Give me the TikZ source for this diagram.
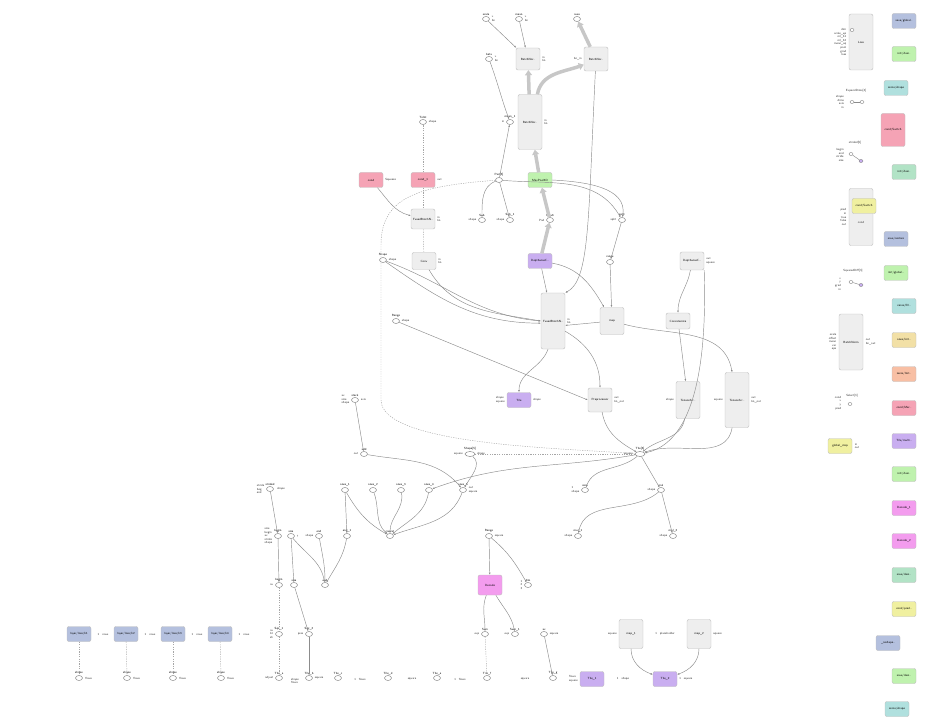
\documentclass[tikz,border=0pt]{standalone}
\usepackage{tikz}
\usetikzlibrary{arrows.meta,positioning,shapes.geometric}
\newcommand{\gfont}{\sffamily\fontsize{3}{3.6}\selectfont}
\definecolor{opgray}{HTML}{EEEEEE}
\definecolor{opline}{HTML}{BDBDBD}
\definecolor{cpink}{HTML}{F5A3B5}
\definecolor{cgreen}{HTML}{BFF2AE}
\definecolor{cpurple}{HTML}{C9AEF0}
\definecolor{cmagenta}{HTML}{F39CEE}
\definecolor{cblue}{HTML}{B4C0DE}
\definecolor{cteal}{HTML}{B0E0DE}
\definecolor{cmint}{HTML}{B2E3C6}
\definecolor{cyellow}{HTML}{F0F0A0}
\definecolor{cochre}{HTML}{F2E0A6}
\definecolor{csalmon}{HTML}{F8BFA4}
\tikzset{
  op/.style={rectangle, rounded corners=2pt, draw=opline, fill=opgray, minimum width=24pt, minimum height=15pt, inner sep=0.5pt, font=\gfont},
  cst/.style={ellipse, draw=black!55, fill=white, minimum width=7pt, minimum height=5pt, inner sep=0pt},
  tinycst/.style={ellipse, draw=black!50, fill=white, minimum width=4pt, minimum height=3pt, inner sep=0pt},
  note/.style={font=\gfont, inner sep=0.4pt, align=left, text=black!80},
  wire/.style={draw=black!45, line width=0.45pt},
  dotwire/.style={draw=black!35, line width=0.45pt, dash pattern=on 1.2pt off 1.2pt},
  flow/.style={draw=black!22, line width=3.5pt, -{Triangle[length=5pt,width=7pt]}},
  every label/.style={font=\gfont, inner sep=0.6pt}
}

\begin{document}
\begin{tikzpicture}[x=1pt, y=-1pt, >={Latex[length=2.2pt,width=1.8pt]}, node distance=47pt]
\useasboundingbox (0,0) rectangle (934,727);

% Blocks - top
\node [cst, label=above:scale] (scl) at (486,19) {};
\node [cst, label=above:mean] (mean) at (519,19) {};
\node [cst, label=above:axes] (axes) at (577,19) {};
\node [cst, label=above:beta] (beta) at (489,59) {};
\node [op, minimum height=22pt] (bnA) at (528,59) {BatchNor..};
\node [op, minimum height=24pt] (bnB) at (596,59) {BatchNor..};
\node [op, minimum height=55pt] (bnC) at (530,122) {BatchNor..};
\node [cst, label=above:mean\_1] (mean1) at (510,122) {};
\node [cst, label=above:ToInt] (toint) at (423,122) {};
\node [note, right=1.5pt of scl] {x\\bn};
\node [note, right=1.5pt of mean] {x\\bn};
\node [note, right=1.5pt of beta] {x\\bn};
\node [note, right=1.5pt of bnA] {in\\bn};
\node [note, left=1.5pt of bnB] {bn\_in};
\node [note, right=1.5pt of bnC] {in\\bn};
\node [note, left=1.5pt of mean1] {in};
\node [note, right=1.5pt of toint] {shape};

% Blocks - second band
\node [op, fill=cpink] (castA) at (371,180) {cond};
\node [op, fill=cpink] (castB) at (423,180) {cond\_1};
\node [cst, label=above:{Pad[3]}] (pad) at (499,180) {};
\node [op, fill=cgreen] (mp) at (540,180) {MaxPool3D};
\node [note, right=1.5pt of castA] {Squeeze};
\node [note, right=1.5pt of castB] {out};
\node [op, minimum height=20pt] (fbn) at (423,219) {FusedBatchN..};
\node [cst, label=above:Sub] (sub) at (482,220) {};
\node [cst, label=above:Sub\_1] (sub1) at (510,220) {};
\node [cst, label=above:Relu6] (relu) at (550,220) {};
\node [cst, label=above:split] (split) at (622,220) {};
\node [note, right=1.5pt of fbn] {in\\bn};
\node [note, left=1.5pt of sub] {shape};
\node [note, left=1.5pt of sub1] {shape};
\node [note, left=1.5pt of relu] {Pad};
\node [note, left=1.5pt of split] {split};
\node [op, minimum height=17pt] (conv) at (424,261) {Conv};
\node [cst, label=above:Shape] (shp) at (383,260) {};
\node [op, fill=cpurple] (dw) at (540,261) {DepthwiseC..};
\node [cst, label=above:range] (rng) at (610,262) {};
\node [op, minimum height=18pt] (dwr) at (692,261) {DepthwiseC..};
\node [note, right=1.5pt of conv] {in\\bn};
\node [note, right=1.5pt of shp] {shape};
\node [note, right=1.5pt of dwr] {out\\square};

% Blocks - middle
\node [op, minimum height=56pt] (fbn2) at (553,321) {FusedBatchN..};
\node [op, minimum height=27pt] (map) at (612,321) {map};
\node [op, minimum height=16pt] (conc) at (678,321) {Concatenate};
\node [cst, label=above:Range] (rg) at (396,321) {};
\node [note, right=1.5pt of fbn2] {in\\bn};
\node [note, right=1.5pt of rg] {shape};
\node [op, fill=cpurple] (tile) at (519,400) {Tile};
\node [op, minimum height=24pt] (prep) at (600,400) {Preprocessor};
\node [op, minimum height=37pt] (tr) at (688,400) {TensorArr..};
\node [op, minimum height=55pt] (tr2) at (737,400) {TensorArr..};
\node [cst, label=above:stack] (stk) at (355,400) {};
\node [note, left=1.5pt of tile] {shape\\square};
\node [note, right=1.5pt of tile] {shape};
\node [note, right=1.5pt of prep] {out\\bn\_out};
\node [note, left=1.5pt of tr] {shape};
\node [note, left=1.5pt of tr2] {square};
\node [note, right=1.5pt of tr2] {out\\bn\_out};
\node [note, left=1.5pt of stk] {ax\\size\\shape};
\node [note, right=1.5pt of stk] {axis};

% Blocks - lower
\node [cst, label=above:add] (add) at (364,454) {};
\node [cst, minimum width=10pt, label=above:{Shape[5]}] (shp5) at (470,454) {};
\node [cst, minimum width=10pt, label=above:{Tile[6]}] (til6) at (640,454) {};
\node [note, left=1.5pt of add] {out};
\node [note, left=1.5pt of shp5] {square};
\node [note, right=1.5pt of shp5] {shape};
\node [note, left=1.5pt of til6] {square};
\node [cst, label=above:ones\_1] (r1) at (345,490) {};
\node [cst, label=above:ones\_2] (r2) at (373,490) {};
\node [cst, label=above:ones\_3] (r3) at (401,490) {};
\node [cst, label=above:ones\_4] (r4) at (429,490) {};
\node [cst, label=above:ones\_5] (r5) at (463,490) {};
\node [cst, label=above:zero] (zro) at (585,490) {};
\node [cst, label=above:mul] (mul) at (661,490) {};
\node [cst, label=above:strided] (ss) at (270,489) {};
\node [note, right=1.5pt of r5] {out\\square};
\node [note, left=1.5pt of zro] {1\\shape};
\node [note, left=1.5pt of mul] {shape};
\node [note, left=1.5pt of ss] {stride\\beg\\end};
\node [note, right=3pt of ss] {shape};
\node [cst, label=above:begin] (sa) at (278,536) {};
\node [cst, label=above:size] (sb) at (291,536) {};
\node [cst, label=above:end] (sc) at (319,536) {};
\node [cst, label=above:end\_1] (sd) at (347,536) {};
\node [cst, label=above:concat] (cat) at (390,536) {};
\node [cst, label=above:Range] (rng2) at (489,536) {};
\node [cst, label=above:mul\_1] (ma) at (578,536) {};
\node [cst, label=above:mul\_2] (mb) at (673,536) {};
\node [note, left=1.5pt of sa] {size\\begin\\ax\\stride\\shape};
\node [note, left=1.5pt of sc] {shape};
\node [note, right=1.5pt of sb] {?};
\node [note, right=1.5pt of rng2] {square};
\node [note, left=1.5pt of ma] {shape};
\node [note, left=1.5pt of mb] {shape};

% Blocks - bottom
\node [op, fill=cmagenta, minimum height=20pt] (dec) at (490,585) {Decode};
\node [cst, label=above:dim] (dim) at (528,585) {};
\node [note, left=1.5pt of dim] {1\\2\\3};
\node [cst, label=above:begin] (ta) at (279,585) {};
\node [cst, label=above:size] (tb) at (294,585) {};
\node [cst, label=above:end] (tc) at (325,585) {};
\node [note, left=1.5pt of ta] {ax};
\node [cst, label=above:Sqz\_1] (qa) at (279,634) {};
\node [cst, label=above:Sqz\_2] (qb) at (309,634) {};
\node [note, left=1.5pt of qa] {ax\\bt\\sh};
\node [note, left=1.5pt of qb] {pres};
\node [cst, label=above:Sum] (da) at (485,634) {};
\node [cst, label=above:Sum\_1] (db) at (515,634) {};
\node [cst, label=above:ax] (dc) at (544,634) {};
\node [note, left=1.5pt of da] {exp};
\node [note, left=1.5pt of db] {exp};
\node [note, right=1.5pt of dc] {square};
\node [op, fill=cblue] (lossA) at (79,634) {layer/loss/h1};
\node [op, fill=cblue, right of=lossA] (lossB) {layer/loss/h2};
\node [op, fill=cblue, right of=lossB] (lossC) {layer/loss/h3};
\node [op, fill=cblue, right of=lossC] (lossD) {layer/loss/h4};
\node [note] at (103,634) {1\quad rows};
\node [note] at (150,634) {1\quad rows};
\node [note] at (197,634) {1\quad rows};
\node [note] at (244,634) {1\quad rows};
\node [op, minimum height=29pt] (gA) at (631,634) {map\_1};
\node [op, minimum height=29pt] (gB) at (699,634) {map\_2};
\node [note, left=1.5pt of gA] {square};
\node [note] at (665,634) {1\quad placeholder};
\node [note, right=1.5pt of gB] {square};
\node [cst, label=above:shape] (ua) at (79,678) {};
\node [cst, label=above:shape] (ub) at (127,678) {};
\node [cst, label=above:shape] (uc) at (173,678) {};
\node [cst, label=above:shape] (ud) at (221,678) {};
\node [note, right=2pt of ua] {flows};
\node [note, right=2pt of ub] {flows};
\node [note, right=2pt of uc] {flows};
\node [note, right=2pt of ud] {flows};
\node [cst, label=above:Tile\_a] (va) at (279,678) {};
\node [cst, label=above:Tile\_b] (vb) at (309,678) {};
\node [cst, label=above:Tile\_c] (vc) at (338,678) {};
\node [cst, label=above:Tile\_d] (vd) at (388,678) {};
\node [cst, label=above:Tile\_e] (ve) at (437,678) {};
\node [cst, label=above:Tile\_f] (vf) at (487,678) {};
\node [cst, label=above:Tile\_g] (vg) at (553,678) {};
\node [note, left=1.5pt of va] {adjust};
\node [note] at (295,681) {shape\\flows};
\node [note, right=1.5pt of vb] {square};
\node [note] at (360,679) {1\quad flows};
\node [note] at (412,679) {square};
\node [note] at (460,679) {1\quad flows};
\node [note] at (525,679) {square};
\node [op, fill=cpurple] (pA) at (592,679) {Tile\_1};
\node [op, fill=cpurple] (pB) at (665,679) {Tile\_2};
\node [note, left=1.5pt of pA] {flows\\square};
\node [note] at (623,679) {1\quad shape};
\node [note, right=1.5pt of pB] {1\quad square};

% Blocks - right column
\node [op, minimum height=56pt] (lossX) at (861,42) {Loss};
\node [tinycst] (lossI) at (852,30) {};
\node [note, left=2pt of lossX, align=right] {dim\\scale\_up\\ml\_h1\\ml\_h2\\mean\_sq\\pool\\grad\\loss};
\node [op, fill=cblue] (kA) at (904,21) {save/global..};
\node [op, fill=cgreen] (kB) at (904,54) {init/Assi..};
\node [op, fill=cteal] (kC) at (896,88) {zeros/shape};
\node [note, align=right] (xA) at (840,102) {shape\\dims\\axis\\in};
\node [note] (xAt) at (856,91) {ExpandDims[3]};
\node [tinycst] (xA1) at (852,102) {};
\node [tinycst] (xA2) at (862,102) {};
\node [op, fill=cpink, minimum height=33pt] (kD) at (893,130) {cond/Switch};
\node [note, align=right] (xB) at (840,155) {begin\\end\\stride\\size};
\node [note] (xBt) at (855,143) {strided[5]};
\node [tinycst] (xB1) at (851,154) {};
\node [tinycst, fill=cpurple] (xB2) at (861,161) {};
\node [op, fill=cmint] (kE) at (904,172) {init/Assi..};
\node [op, minimum height=57pt] (kF) at (861,217) {};
\node [op, fill=cyellow] (kG) at (864,206) {cond/Switch};
\node [note] at (861,222) {cond};
\node [note, left=2pt of kF, align=right] {pred\\in\\true\\false\\out};
\node [op, fill=cblue] (kH) at (896,239) {save/restore};
\node [note, align=right] (xC) at (838,284) {x\\y\\grad\\in};
\node [note] (xCt) at (853,271) {SquaredDiff[3]};
\node [tinycst] (xC1) at (851,282) {};
\node [tinycst, fill=cpurple] (xC2) at (861,285) {};
\node [op, fill=cgreen] (kI) at (896,273) {init/global..};
\node [op, fill=cteal] (kJ) at (904,306) {zeros/fill..};
\node [op, minimum height=56pt] (kK) at (851,342) {BatchNorm};
\node [note, left=2pt of kK, align=right] {scale\\offset\\mean\\var\\eps};
\node [note, right=2pt of kK] {out\\bn\_out};
\node [op, fill=cochre] (kL) at (904,340) {ones/Init..};
\node [op, fill=csalmon] (kM) at (904,374) {zeros/Init..};
\node [op, fill=cpink] (kN) at (904,408) {cond/Mer..};
\node [note, align=right] (xD) at (838,403) {cond\\x\\y\\pred};
\node [note] (xDt) at (852,396) {Select[3]};
\node [tinycst] (xD1) at (850,404) {};
\node [op, fill=cyellow] (kO) at (840,446) {global\_step};
\node [note, right=2pt of kO] {in\\out};
\node [op, fill=cpurple] (kP) at (904,441) {Tile/multi..};
\node [op, fill=cgreen] (kQ) at (904,474) {init/Assi..};
\node [op, fill=cmagenta] (kR) at (904,508) {Decode\_1};
\node [op, fill=cmagenta] (kS) at (904,541) {Decode\_2};
\node [op, fill=cmint] (kT) at (904,575) {save/Assi..};
\node [op, fill=cyellow] (kU) at (904,609) {cond/pred..};
\node [op, fill=cblue] (kV) at (888,643) {\_reshape..};
\node [op, fill=cgreen] (kW) at (904,676) {save/Assi..};
\node [op, fill=cteal] (kX) at (897,709) {zeros/shape};

% Connections - top
\draw [wire,->] (scl) -- (bnA);
\draw [wire,->] (mean) -- (bnA);
\draw [flow] (bnB) -- (axes);
\draw [flow] (bnC) -- (bnA);
\draw [flow] (bnC.75) to[out=80,in=200] (bnB.205);
\draw [wire,->] (beta) to[out=-70,in=110] (mean1);
\draw [wire,->] (pad) -- (mean1);
\draw [dotwire] (castB) -- (toint);
\draw [flow] (mp) -- (bnC);
\draw [flow] (dw) -- (relu);
\draw [flow] (relu) -- (mp);
\draw [wire,->] (castA) to[out=-50,in=165] (fbn);
\draw [dotwire] (castB) -- (fbn);
\draw [dotwire] (fbn) -- (conv);
\draw [wire,->] (pad) to[out=-5,in=120] (split);
\draw [wire,->] (mp.east) to[out=-3,in=80] (split);
\draw [wire,->] (pad) to[out=200,in=90] (sub);
\draw [wire,->] (pad) -- (sub1);
\draw [wire,->] (split) -- (rng);
\draw [wire,->] (bnB) .. controls (588,220) and (590,280) .. (fbn2.north east);
\draw [dotwire] (pad) .. controls (420,186) and (381,196) .. (381,245) -- (381,400) .. controls (381,445) and (560,448) .. (til6);

% Connections - middle
\draw [wire,->] (shp) to[out=-20,in=175] (fbn2.west);
\draw [wire,->] (shp) to[out=-35,in=180] (fbn2.190);
\draw [wire,->] (conv) to[out=-60,in=170] (fbn2.west);
\draw [wire,->] (dw) -- (fbn2);
\draw [wire,->] (dw) to[out=-10,in=120] (map);
\draw [wire,->] (rng) -- (map);
\draw [wire,->] (map) -- (fbn2.-20);
\draw [wire,->] (fbn2.-40) to[out=-30,in=90] (prep);
\draw [wire,->] (fbn2.-100) to[out=-110,in=90] (tile);
\draw [wire,->] (rg) -- (prep.west);
\draw [wire,->] (map) to[out=-15,in=100] (tr2);
\draw [wire,->] (dwr) to[out=-100,in=90] (conc);
\draw [wire,->] (conc) -- (tr);
\draw [wire,->] (dwr.south east) .. controls (706,330) and (704,440) .. (til6);
\draw [wire,->] (prep) to[out=-80,in=150] (til6);
\draw [wire,->] (tr) to[out=-100,in=40] (til6);
\draw [wire,->] (tr2) to[out=-100,in=20] (til6);

% Connections - lower
\draw [wire,->] (stk) -- (add);
\draw [wire,->] (add) to[out=-10,in=130] (r5);
\draw [wire,->] (shp5) to[out=-40,in=60] (r5);
\draw [dotwire] (til6) -- (shp5);
\draw [wire,->] (til6) to[out=190,in=20] (r4);
\draw [wire,->] (til6) to[out=220,in=70] (zro);
\draw [wire,->] (til6) -- (mul);
\draw [wire,->] (r1) to[out=-60,in=150] (cat);
\draw [wire,->] (r2) to[out=-70,in=140] (cat);
\draw [wire,->] (r3) to[out=-80,in=90] (cat);
\draw [wire,->] (r4) to[out=-100,in=40] (cat);
\draw [wire,->] (r5) to[out=-110,in=20] (cat);
\draw [wire,->] (r1) -- (sd);
\draw [wire,->] (mul) to[out=220,in=80] (ma);
\draw [wire,->] (mul) -- (mb);
\draw [wire,->] (ss) -- (sa);
\draw [wire,->] (sa) -- (ta);
\draw [wire,->] (sb) -- (tb);
\draw [wire,->] (sb) to[out=-50,in=100] (tc);
\draw [wire,->] (sc) to[out=-80,in=90] (tc);
\draw [wire,->] (sd) to[out=-100,in=60] (tc);
\draw [wire,->] (rng2) -- (dec);
\draw [wire,->] (rng2) to[out=-40,in=120] (dim);

% Connections - bottom
\draw [dotwire] (ta) -- (qa);
\draw [wire,->] (tb) -- (qb);
\draw [dotwire] (qa) -- (va);
\draw [wire,->] (qb) -- (vb);
\draw [wire,->] (dec) to[out=-110,in=90] (da);
\draw [wire,->] (dec) to[out=-60,in=100] (db);
\draw [dotwire] (da) -- (vf);
\draw [wire,->] (dc) -- (vg);
\draw [wire,->] (gA) to[out=-90,in=160] (pB);
\draw [wire,->] (gB) to[out=-90,in=20] (pB);
\draw [dotwire] (lossA) -- (ua);
\draw [dotwire] (lossB) -- (ub);
\draw [dotwire] (lossC) -- (uc);
\draw [dotwire] (lossD) -- (ud);
\draw [wire] (xA1) -- (xA2);
\draw [wire] (xB1) -- (xB2);
\draw [wire] (xC1) -- (xC2);
\end{tikzpicture}
\end{document}
